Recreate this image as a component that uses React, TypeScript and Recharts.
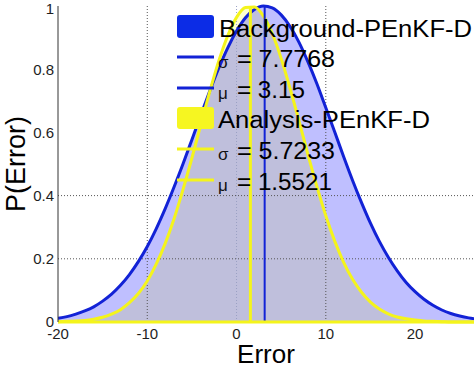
import {
  ComposedChart, Area, Line, XAxis, YAxis, ReferenceLine, Legend, Label,
} from "recharts";

// Error axis samples and the two normalised error densities
const ERRORS = [-20, -19, -18, -17, -16, -15, -14, -13, -12, -11, -10, -9, -8, -7, -6, -5, -4, -3, -2, -1, 0, 1, 2, 3, 4, 5, 6, 7, 8, 9, 10, 11, 12, 13, 14, 15, 16, 17, 18, 19, 20, 21, 22, 23, 24, 25, 26, 27];
const BACKGROUND = [0.012, 0.017, 0.025, 0.035, 0.048, 0.066, 0.088, 0.116, 0.150, 0.191, 0.239, 0.295, 0.358, 0.427, 0.500, 0.577, 0.655, 0.731, 0.803, 0.867, 0.921, 0.963, 0.989, 1.000, 0.994, 0.972, 0.935, 0.885, 0.823, 0.754, 0.678, 0.601, 0.523, 0.448, 0.378, 0.313, 0.255, 0.205, 0.162, 0.125, 0.096, 0.072, 0.053, 0.038, 0.027, 0.019, 0.013, 0.009];
const ANALYSIS = [0.001, 0.002, 0.003, 0.005, 0.009, 0.015, 0.025, 0.039, 0.061, 0.090, 0.130, 0.183, 0.248, 0.327, 0.419, 0.519, 0.625, 0.729, 0.825, 0.905, 0.964, 0.995, 0.997, 0.969, 0.913, 0.834, 0.739, 0.636, 0.530, 0.429, 0.336, 0.256, 0.189, 0.135, 0.094, 0.063, 0.041, 0.026, 0.016, 0.010, 0.006, 0.003, 0.002, 0.001, 0, 0, 0, 0];

const BG_MEAN = 3.15;
const AN_MEAN = 1.5521;
const BG_SIGMA = "7.7768";
const AN_SIGMA = "5.7233";

const X_TICKS = [-20, -10, 0, 10, 20];
const Y_TICKS = [0, 0.2, 0.4, 0.6, 0.8, 1];
const X_GRID = [-10, 10];
const Y_GRID = [0.2, 0.4];

const BLUE = "#1222d6";
const YELLOW = "#f4f41c";
const FONT = "'Liberation Sans', Arial, Helvetica, sans-serif";
const TICK = { fontSize: 15, fill: "#1e1e1e", fontFamily: FONT } as const;

const rows = ERRORS.map((x, i) => ({ x, background: BACKGROUND[i], analysis: ANALYSIS[i] }));

function LegendPanel() {
  const txt = { fontFamily: FONT, fontSize: 23, fill: "#000" } as const;
  const sym = { fontFamily: FONT, fontSize: 17, fill: "#111" } as const;
  return (
    <svg width={474} height={200} style={{ display: "block" }}>
      <rect x={177} y={15} width={37} height={23} rx={3} fill="#0c2ce6" />
      <text x={219} y={37} {...txt} textLength={253} lengthAdjust="spacingAndGlyphs">Background-PEnKF-D</text>
      <line x1={177} x2={214} y1={57} y2={57} stroke={BLUE} strokeWidth={3} />
      <text x={218} y={68} {...sym}>σ</text>
      <text x={237} y={67} {...txt} textLength={98} lengthAdjust="spacingAndGlyphs">{`= ${BG_SIGMA}`}</text>
      <line x1={177} x2={214} y1={88} y2={88} stroke={BLUE} strokeWidth={3} />
      <text x={218} y={99} {...sym}>μ</text>
      <text x={237} y={98} {...txt} textLength={68} lengthAdjust="spacingAndGlyphs">{`= ${BG_MEAN}`}</text>
      <rect x={177} y={107} width={37} height={22} rx={3} fill="#f6f621" />
      <text x={218} y={128} {...txt} textLength={212} lengthAdjust="spacingAndGlyphs">Analysis-PEnKF-D</text>
      <line x1={177} x2={214} y1={149} y2={149} stroke={YELLOW} strokeWidth={3} />
      <text x={218} y={160} {...sym}>σ</text>
      <text x={237} y={159} {...txt} textLength={98} lengthAdjust="spacingAndGlyphs">{`= ${AN_SIGMA}`}</text>
      <line x1={177} x2={214} y1={180} y2={180} stroke={YELLOW} strokeWidth={3} />
      <text x={218} y={191} {...sym}>μ</text>
      <text x={237} y={190} {...txt} textLength={95} lengthAdjust="spacingAndGlyphs">{`= ${AN_MEAN}`}</text>
    </svg>
  );
}

function YTitle() {
  return (
    <text x={25} y={164} transform="rotate(-90 25 164)" textAnchor="middle" fontFamily={FONT} fontSize={27} fill="#000">P(Error)</text>
  );
}

function XTitle() {
  return <text x={266} y={363} textAnchor="middle" fontFamily={FONT} fontSize={26} fill="#000">Error</text>;
}

export default function App() {
  return (
    <div style={{ position: "absolute", left: 0, top: 0, background: "#fff" }}>
      <ComposedChart width={474} height={370} data={rows} margin={{ top: 6, right: 0, bottom: 0, left: 0 }}>
        <XAxis type="number" dataKey="x" domain={[-20, 26.6]} allowDataOverflow ticks={X_TICKS}
          axisLine={false} tickLine={false} tickSize={0} tickMargin={6} tick={TICK} height={48}>
          <Label content={XTitle} />
        </XAxis>
        <YAxis type="number" domain={[0, 1]} ticks={Y_TICKS} width={58}
          axisLine={{ stroke: "#333", strokeWidth: 1 }} tickLine={false} tickSize={0} tickMargin={4} tick={TICK}>
          <Label content={YTitle} />
        </YAxis>
        <Area type="monotone" dataKey="analysis" fill="#ffff00" fillOpacity={0.18} stroke="none" isAnimationActive={false} />
        <Area type="monotone" dataKey="background" fill="#0000ff" fillOpacity={0.25} stroke="none" isAnimationActive={false} />
        {X_GRID.map((v) => <ReferenceLine key={`gx${v}`} x={v} stroke="#555" strokeDasharray="1 2" />)}
        <ReferenceLine x={0} stroke="#9aa0c4" strokeDasharray="1 2" />
        {Y_GRID.map((v) => <ReferenceLine key={`gy${v}`} y={v} stroke="#555" strokeDasharray="1 2" />)}
        <Line type="monotone" dataKey="background" stroke={BLUE} strokeWidth={3} dot={false} isAnimationActive={false} />
        <Line type="monotone" dataKey="analysis" stroke={YELLOW} strokeWidth={3} dot={false} isAnimationActive={false} />
        <ReferenceLine x={BG_MEAN} stroke={BLUE} strokeWidth={2} />
        <ReferenceLine x={AN_MEAN} stroke={YELLOW} strokeWidth={3} />
        <ReferenceLine y={0} stroke={YELLOW} strokeWidth={3} />
        <Legend verticalAlign="middle" layout="horizontal" content={LegendPanel}
          wrapperStyle={{ left: 0, top: 0, width: 474, height: 200 }} />
      </ComposedChart>
    </div>
  );
}
